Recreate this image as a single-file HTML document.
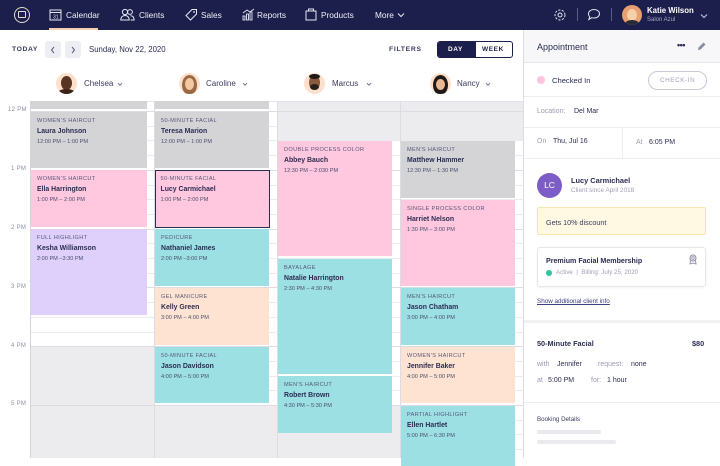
<!DOCTYPE html>
<html><head><meta charset="utf-8">
<style>
*{margin:0;padding:0;box-sizing:border-box}
body{width:720px;height:458px;overflow:hidden;background:#fff;font-family:"Liberation Sans",sans-serif;color:#2b2d52;position:relative}
.a{position:absolute;white-space:nowrap}
.nav{left:0;top:0;width:720px;height:30px;background:#1c1e4c}
.nt{color:#eef0f8;font-size:8.3px;top:10px}
.hl{left:31px;height:1px;width:492px;background:#ebebf0}
.hh{background:#dcdce4}
.tl{font-size:6px;color:#8e90a6;left:8px;letter-spacing:.3px}
.ev{position:absolute;overflow:hidden}
.ev .c{position:absolute;left:6px;top:6px;font-size:5.6px;letter-spacing:.35px;color:#55587a;white-space:nowrap}
.ev .n{position:absolute;left:6px;top:16px;font-size:6.9px;font-weight:bold;color:#2b2d52;white-space:nowrap}
.ev .t{position:absolute;left:6px;top:27px;font-size:5.6px;color:#4b4e6e;white-space:nowrap}
.gr{background:#d4d4d7}.pk{background:#ffc8df}.lv{background:#ded0fb}.tq{background:#9ce0e3}.pc{background:#ffe3d2}
.off{position:absolute;background:#ececef}
.vl{position:absolute;top:101px;width:1px;height:357px;background:#dcdce4}
.sm{font-size:7px;color:#9a9cb2}
.dk{font-size:7px;color:#2b2d52}
</style></head><body>

<!-- NAV -->
<div class="a nav"></div>
<div class="a" style="left:14px;top:7px;width:16px;height:16px;border:1.3px solid #e8d9c8;border-radius:50%"></div>
<div class="a" style="left:18px;top:11px;width:8px;height:7px;border:1.2px solid #e8d9c8;border-radius:1px"></div>
<svg class="a" style="left:49px;top:8px" width="13" height="13" viewBox="0 0 13 13"><rect x="1" y="2" width="11" height="10" fill="none" stroke="#e6e8f2" stroke-width="1"/><line x1="1" y1="4.5" x2="12" y2="4.5" stroke="#e6e8f2"/><text x="4" y="10.5" font-size="5" fill="#e6e8f2" font-family="Liberation Sans">31</text></svg>
<div class="a nt" style="left:66px">Calendar</div>
<div class="a" style="left:49px;top:28px;width:49px;height:2px;background:#f2cfb0"></div>
<svg class="a" style="left:120px;top:8px" width="15" height="13" viewBox="0 0 15 13"><circle cx="5" cy="4" r="2.6" fill="none" stroke="#e6e8f2"/><path d="M0.8 12c0-3 2-4.5 4.2-4.5S9.2 9 9.2 12z" fill="none" stroke="#e6e8f2"/><circle cx="10" cy="4" r="2.4" fill="none" stroke="#e6e8f2"/><path d="M10.5 7.6c2 .2 3.6 1.6 3.6 4.4h-3.4" fill="none" stroke="#e6e8f2"/></svg>
<div class="a nt" style="left:139px">Clients</div>
<svg class="a" style="left:185px;top:8px" width="13" height="13" viewBox="0 0 13 13"><path d="M7 1.5h4.5v4.5L5.5 12 1 7.5z" fill="none" stroke="#e6e8f2"/><circle cx="9" cy="4" r=".9" fill="#e6e8f2"/></svg>
<div class="a nt" style="left:201px">Sales</div>
<svg class="a" style="left:242px;top:8px" width="13" height="13" viewBox="0 0 13 13"><rect x="1" y="8" width="2" height="4" fill="none" stroke="#e6e8f2" stroke-width=".9"/><rect x="4.5" y="6" width="2" height="6" fill="none" stroke="#e6e8f2" stroke-width=".9"/><rect x="8" y="4" width="2" height="8" fill="none" stroke="#e6e8f2" stroke-width=".9"/><path d="M1 5l4-3 3 2 4-3" fill="none" stroke="#e6e8f2" stroke-width=".9"/></svg>
<div class="a nt" style="left:257px">Reports</div>
<svg class="a" style="left:305px;top:7px" width="12" height="14" viewBox="0 0 12 14"><path d="M1 4h10v9H1z" fill="none" stroke="#e6e8f2"/><path d="M3.5 4V2h5v2" fill="none" stroke="#e6e8f2"/></svg>
<div class="a nt" style="left:321px">Products</div>
<div class="a nt" style="left:375px">More</div>
<svg class="a" style="left:397px;top:12px" width="8" height="6" viewBox="0 0 8 6"><path d="M1 1.5l3 3 3-3" fill="none" stroke="#e6e8f2"/></svg>
<svg class="a" style="left:553px;top:8px" width="14" height="14" viewBox="0 0 14 14"><circle cx="7" cy="7" r="2" fill="none" stroke="#e6e8f2"/><circle cx="7" cy="7" r="5" fill="none" stroke="#e6e8f2" stroke-dasharray="2.2 1.4"/></svg>
<div class="a" style="left:577px;top:8px;width:1px;height:13px;background:#5a5d86"></div>
<svg class="a" style="left:587px;top:8px" width="14" height="13" viewBox="0 0 14 13"><path d="M7 1.5c3.2 0 5.5 1.9 5.5 4.3S10.2 10 7 10c-.8 0-1.5-.1-2.2-.3L1.8 11.5l.9-2.6C1.9 8.1 1.5 7 1.5 5.8 1.5 3.4 3.8 1.5 7 1.5z" fill="none" stroke="#e6e8f2"/></svg>
<div class="a" style="left:611px;top:8px;width:1px;height:13px;background:#5a5d86"></div>
<div class="a" style="left:622px;top:5px;width:20px;height:20px;border-radius:50%;background:#e8a070;overflow:hidden"><div style="position:absolute;left:5px;top:4px;width:10px;height:12px;border-radius:50%;background:#f6d0a8"></div><div style="position:absolute;left:3px;top:15px;width:14px;height:8px;border-radius:50%;background:#2a2a3a"></div></div>
<div class="a" style="left:647px;top:6px;font-size:7.8px;font-weight:bold;color:#fff">Katie Wilson</div>
<div class="a" style="left:647px;top:17px;font-size:6px;color:#a4a7c4">Salon Azul</div>
<svg class="a" style="left:700px;top:13px" width="8" height="6" viewBox="0 0 8 6"><path d="M1 1.5l3 3 3-3" fill="none" stroke="#c8cae0"/></svg>

<!-- TOOLBAR -->
<div class="a" style="left:12px;top:46px;font-size:6.8px;font-weight:bold;letter-spacing:.6px;color:#3a3c5e">TODAY</div>
<div class="a" style="left:45px;top:41px;width:16px;height:17px;background:#eceef4;border-radius:3px"></div>
<div class="a" style="left:65px;top:41px;width:16px;height:17px;background:#eceef4;border-radius:3px"></div>
<svg class="a" style="left:50px;top:46px" width="6" height="8" viewBox="0 0 6 8"><path d="M4 1L1.5 4 4 7" fill="none" stroke="#5a5c7a"/></svg>
<svg class="a" style="left:70px;top:46px" width="6" height="8" viewBox="0 0 6 8"><path d="M2 1l2.5 3L2 7" fill="none" stroke="#5a5c7a"/></svg>
<div class="a" style="left:89px;top:45px;font-size:7.8px;color:#2b2d52">Sunday, Nov 22, 2020</div>
<div class="a" style="left:389px;top:46px;font-size:6.8px;font-weight:bold;letter-spacing:.7px;color:#3a3c5e">FILTERS</div>
<div class="a" style="left:437px;top:41px;width:76px;height:17px;border:1px solid #1c1e4c;border-radius:3px;overflow:hidden"><div style="position:absolute;left:0;top:0;width:38px;height:17px;background:#1c1e4c"></div></div>
<div class="a" style="left:448px;top:46px;font-size:6.5px;font-weight:bold;letter-spacing:.6px;color:#fff">DAY</div>
<div class="a" style="left:482px;top:46px;font-size:6.5px;font-weight:bold;letter-spacing:.6px;color:#1c1e4c">WEEK</div>

<!-- STAFF -->
<div class="a" style="left:56px;top:73px;width:21px;height:21px;border-radius:50%;background:#fde0cc;overflow:hidden"><div style="position:absolute;left:5px;top:3px;width:11px;height:14px;border-radius:50%;background:#5a3524"></div><div style="position:absolute;left:2px;top:16px;width:17px;height:8px;border-radius:50%;background:#3a2418"></div></div>
<div class="a" style="left:84px;top:79px;font-size:8px;color:#3a3c5e">Chelsea</div>
<svg class="a" style="left:117px;top:82px" width="6" height="5" viewBox="0 0 6 5"><path d="M1 1.2l2 2 2-2" fill="none" stroke="#6a6c88" stroke-width=".9"/></svg>
<div class="a" style="left:179px;top:73px;width:21px;height:21px;border-radius:50%;background:#fde0cc;overflow:hidden"><div style="position:absolute;left:3px;top:2px;width:15px;height:20px;border-radius:50%;background:#9a6a45"></div><div style="position:absolute;left:6px;top:5px;width:9px;height:12px;border-radius:50%;background:#f2c7a2"></div></div>
<div class="a" style="left:206px;top:79px;font-size:8px;color:#3a3c5e">Caroline</div>
<svg class="a" style="left:242px;top:82px" width="6" height="5" viewBox="0 0 6 5"><path d="M1 1.2l2 2 2-2" fill="none" stroke="#6a6c88" stroke-width=".9"/></svg>
<div class="a" style="left:304px;top:73px;width:21px;height:21px;border-radius:50%;background:#fde0cc;overflow:hidden"><div style="position:absolute;left:5px;top:2px;width:11px;height:15px;border-radius:50%;background:#8a5a3a"></div><div style="position:absolute;left:5px;top:1px;width:11px;height:5px;border-radius:50%;background:#1f1a18"></div><div style="position:absolute;left:6px;top:11px;width:9px;height:6px;border-radius:50%;background:#2a201a"></div></div>
<div class="a" style="left:332px;top:79px;font-size:8px;color:#3a3c5e">Marcus</div>
<svg class="a" style="left:366px;top:82px" width="6" height="5" viewBox="0 0 6 5"><path d="M1 1.2l2 2 2-2" fill="none" stroke="#6a6c88" stroke-width=".9"/></svg>
<div class="a" style="left:430px;top:73px;width:21px;height:21px;border-radius:50%;background:#fde0cc;overflow:hidden"><div style="position:absolute;left:3px;top:2px;width:15px;height:20px;border-radius:50%;background:#1f1a1a"></div><div style="position:absolute;left:6px;top:6px;width:9px;height:11px;border-radius:50%;background:#e8b892"></div></div>
<div class="a" style="left:457px;top:79px;font-size:8px;color:#3a3c5e">Nancy</div>
<svg class="a" style="left:485px;top:82px" width="6" height="5" viewBox="0 0 6 5"><path d="M1 1.2l2 2 2-2" fill="none" stroke="#6a6c88" stroke-width=".9"/></svg>

<!-- GRID -->
<div class="off" style="left:31px;top:346px;width:123px;height:112px"></div>
<div class="off" style="left:154px;top:405px;width:124px;height:53px"></div>
<div class="off" style="left:278px;top:101px;width:123px;height:40px"></div>
<div class="off" style="left:278px;top:405px;width:123px;height:53px"></div>
<div class="off" style="left:401px;top:101px;width:123px;height:40px"></div>

<div class="a hl hh" style="top:101px;background:#e4e4ea"></div>
<div class="a hl hh" style="top:111px"></div>
<div class="a hl" style="top:125.7px"></div>
<div class="a hl" style="top:140.4px"></div>
<div class="a hl" style="top:155.1px"></div>
<div class="a hl hh" style="top:169.8px"></div>
<div class="a hl" style="top:184.5px"></div>
<div class="a hl" style="top:199.2px"></div>
<div class="a hl" style="top:213.9px"></div>
<div class="a hl hh" style="top:228.6px"></div>
<div class="a hl" style="top:243.3px"></div>
<div class="a hl" style="top:258px"></div>
<div class="a hl" style="top:272.7px"></div>
<div class="a hl hh" style="top:287.4px"></div>
<div class="a hl" style="top:302.1px"></div>
<div class="a hl" style="top:316.8px"></div>
<div class="a hl" style="top:331.5px"></div>
<div class="a hl hh" style="top:346.2px"></div>
<div class="a hl" style="top:360.9px"></div>
<div class="a hl" style="top:375.6px"></div>
<div class="a hl" style="top:390.3px"></div>
<div class="a hl hh" style="top:405px"></div>
<div class="a hl" style="top:419.7px"></div>
<div class="a hl" style="top:434.4px"></div>
<div class="a hl" style="top:449.1px"></div>

<div class="vl" style="left:30px;background:#d4d4de"></div>
<div class="vl" style="left:154px"></div>
<div class="vl" style="left:277px"></div>
<div class="vl" style="left:400px"></div>

<div class="a tl" style="top:107px">12 PM</div>
<div class="a tl" style="top:166px;left:11px">1 PM</div>
<div class="a tl" style="top:225px;left:11px">2 PM</div>
<div class="a tl" style="top:284px;left:11px">3 PM</div>
<div class="a tl" style="top:343px;left:11px">4 PM</div>
<div class="a tl" style="top:401px;left:11px">5 PM</div>

<!-- col1 -->
<div class="ev gr" style="left:31px;top:101px;width:116px;height:8px"></div>
<div class="ev gr" style="left:31px;top:111.5px;width:116px;height:56.8px"><div class="c">WOMEN'S HAIRCUT</div><div class="n">Laura Johnson</div><div class="t">12:00 PM – 1:00 PM</div></div>
<div class="ev pk" style="left:31px;top:170.3px;width:116px;height:56.8px"><div class="c">WOMEN'S HAIRCUT</div><div class="n">Ella Harrington</div><div class="t">1:00 PM – 2:00 PM</div></div>
<div class="ev lv" style="left:31px;top:229.1px;width:116px;height:86.2px"><div class="c">FULL HIGHLIGHT</div><div class="n">Kesha Williamson</div><div class="t">2:00 PM –3:30 PM</div></div>
<!-- col2 -->
<div class="ev gr" style="left:155px;top:101px;width:114px;height:8px"></div>
<div class="ev gr" style="left:155px;top:111.5px;width:114px;height:56.8px"><div class="c">50-MINUTE FACIAL</div><div class="n">Teresa Marion</div><div class="t">12:00 PM – 1:00 PM</div></div>
<div class="ev pk" style="left:155px;top:170.3px;width:115px;height:57.8px;border:1.5px solid #2a2c50"><div class="c" style="left:4.5px;top:4.5px">50-MINUTE FACIAL</div><div class="n" style="left:4.5px;top:14.5px">Lucy Carmichael</div><div class="t" style="left:4.5px;top:25.5px">1:00 PM – 2:00 PM</div></div>
<div class="ev tq" style="left:155px;top:229.1px;width:114px;height:56.8px"><div class="c">PEDICURE</div><div class="n">Nathaniel James</div><div class="t">2:00 PM –3:00 PM</div></div>
<div class="ev pc" style="left:155px;top:287.9px;width:114px;height:56.8px"><div class="c">GEL MANICURE</div><div class="n">Kelly Green</div><div class="t">3:00 PM – 4:00 PM</div></div>
<div class="ev tq" style="left:155px;top:346.7px;width:114px;height:56.8px"><div class="c">50-MINUTE FACIAL</div><div class="n">Jason Davidson</div><div class="t">4:00 PM – 5:00 PM</div></div>
<!-- col3 -->
<div class="ev pk" style="left:278px;top:140.9px;width:114px;height:115.6px"><div class="c">DOUBLE PROCESS COLOR</div><div class="n">Abbey Bauch</div><div class="t">12:30 PM – 2:030 PM</div></div>
<div class="ev tq" style="left:278px;top:258.5px;width:114px;height:115.6px"><div class="c">BAYALAGE</div><div class="n">Natalie Harrington</div><div class="t">2:30 PM – 4:30 PM</div></div>
<div class="ev tq" style="left:278px;top:376.1px;width:114px;height:56.8px"><div class="c">MEN'S HAIRCUT</div><div class="n">Robert Brown</div><div class="t">4:30 PM – 5:30 PM</div></div>
<!-- col4 -->
<div class="ev gr" style="left:401px;top:140.9px;width:114px;height:56.8px"><div class="c">MEN'S HAIRCUT</div><div class="n">Matthew Hammer</div><div class="t">12:30 PM – 1:30 PM</div></div>
<div class="ev pk" style="left:401px;top:199.7px;width:114px;height:86.2px"><div class="c">SINGLE PROCESS COLOR</div><div class="n">Harriet Nelson</div><div class="t">1:30 PM – 3:00 PM</div></div>
<div class="ev tq" style="left:401px;top:287.9px;width:114px;height:56.8px"><div class="c">MEN'S HAIRCUT</div><div class="n">Jason Chatham</div><div class="t">3:00 PM – 4:00 PM</div></div>
<div class="ev pc" style="left:401px;top:346.7px;width:114px;height:56.8px"><div class="c">WOMEN'S HAIRCUT</div><div class="n">Jennifer Baker</div><div class="t">4:00 PM – 5:00 PM</div></div>
<div class="ev tq" style="left:401px;top:405.5px;width:114px;height:60px"><div class="c">PARTIAL HIGHLIGHT</div><div class="n">Ellen Hartlet</div><div class="t">5:00 PM – 6:30 PM</div></div>

<!-- RIGHT PANEL -->
<div class="a" style="left:523px;top:30px;width:1px;height:428px;background:#dcdce4"></div>
<div class="a" style="left:524px;top:30px;width:196px;height:428px;background:#fff"></div>
<div class="a" style="left:524px;top:30px;width:196px;height:33px;background:#f7f7f9;border-bottom:1px solid #e6e6ec"></div>
<div class="a" style="left:537px;top:42px;font-size:9px;color:#2b2d52">Appointment</div>
<div class="a" style="left:677px;top:40px;font-size:9px;font-weight:bold;color:#2b2d52;letter-spacing:-.5px">•••</div>
<svg class="a" style="left:696px;top:41px" width="11" height="11" viewBox="0 0 11 11"><path d="M2 9l.5-2.5L7.5 1.5 9.5 3.5 4.5 8.5z" fill="#8a8ca4"/></svg>

<div class="a" style="left:537px;top:76px;width:8px;height:8px;border-radius:50%;background:#ffc3db"></div>
<div class="a" style="left:552px;top:76px;font-size:7.6px;color:#2b2d52">Checked In</div>
<div class="a" style="left:648px;top:71px;width:59px;height:19px;border:1px solid #c8cad6;border-radius:10px"></div>
<div class="a" style="left:660px;top:77px;font-size:6.3px;letter-spacing:.6px;color:#a2a4b8">CHECK-IN</div>
<div class="a" style="left:524px;top:96px;width:196px;height:1px;background:#ececf1"></div>

<div class="a sm" style="left:537px;top:108px">Location:</div>
<div class="a dk" style="left:574px;top:108px">Del Mar</div>
<div class="a" style="left:524px;top:127px;width:196px;height:1px;background:#ececf1"></div>
<div class="a sm" style="left:537px;top:138px">On</div>
<div class="a dk" style="left:553px;top:138px">Thu, Jul 16</div>
<div class="a" style="left:622px;top:127px;width:1px;height:31px;background:#ececf1"></div>
<div class="a sm" style="left:636px;top:139px">At</div>
<div class="a dk" style="left:649px;top:139px">6:05 PM</div>
<div class="a" style="left:524px;top:158px;width:196px;height:1px;background:#ececf1"></div>

<div class="a" style="left:537px;top:173px;width:25px;height:25px;border-radius:50%;background:#7c5cc6;color:#fff;font-size:8.5px;text-align:center;line-height:25px">LC</div>
<div class="a" style="left:571px;top:176px;font-size:7.4px;font-weight:bold;color:#2b2d52">Lucy Carmichael</div>
<div class="a" style="left:571px;top:187px;font-size:6.4px;color:#a0a2b6">Client since April 2018</div>

<div class="a" style="left:537px;top:207px;width:169px;height:28px;background:#fff8e2;border:1px solid #f5e6b2;border-radius:2px"></div>
<div class="a" style="left:546px;top:218px;font-size:7.2px;color:#3a3c5e">Gets 10% discount</div>

<div class="a" style="left:537px;top:247px;width:169px;height:40px;border:1px solid #e6e6ec;border-radius:3px;box-shadow:0 1px 2px rgba(0,0,0,.05)"></div>
<div class="a" style="left:546px;top:257px;font-size:7.1px;font-weight:bold;color:#2b2d52">Premium Facial Membership</div>
<div class="a" style="left:546px;top:270px;width:6px;height:6px;border-radius:50%;background:#2ec4a0"></div>
<div class="a" style="left:556px;top:269px;font-size:6.2px;color:#a0a2b6">Active &nbsp;| &nbsp;Billing: July 25, 2020</div>
<svg class="a" style="left:688px;top:254px" width="10" height="11" viewBox="0 0 10 11"><circle cx="5" cy="4" r="3" fill="none" stroke="#8a8ca4"/><circle cx="5" cy="4" r="1.3" fill="none" stroke="#8a8ca4" stroke-width=".8"/><path d="M2.5 6.5L2 10l3-1 3 1-.5-3.5" fill="none" stroke="#8a8ca4" stroke-width=".9"/></svg>
<div class="a" style="left:537px;top:298px;font-size:6.3px;color:#3b3e80;text-decoration:underline">Show additional client info</div>
<div class="a" style="left:524px;top:320px;width:196px;height:3px;background:#f1f1f4"></div>

<div class="a" style="left:537px;top:339px;font-size:7.3px;font-weight:bold;color:#2b2d52">50-Minute Facial</div>
<div class="a" style="left:692px;top:339px;font-size:7.3px;font-weight:bold;color:#2b2d52">$80</div>
<div class="a sm" style="left:537px;top:361px">with</div>
<div class="a dk" style="left:557px;top:361px">Jennifer</div>
<div class="a sm" style="left:598px;top:361px">request:</div>
<div class="a dk" style="left:631px;top:361px">none</div>
<div class="a sm" style="left:537px;top:377px">at</div>
<div class="a dk" style="left:548px;top:377px">5:00 PM</div>
<div class="a sm" style="left:591px;top:377px">for:</div>
<div class="a dk" style="left:607px;top:377px">1 hour</div>
<div class="a" style="left:524px;top:402px;width:196px;height:1px;background:#ececf1"></div>
<div class="a" style="left:537px;top:416px;font-size:6.2px;color:#3a3c5e">Booking Details</div>
<div class="a" style="left:537px;top:430px;width:64px;height:4px;border-radius:2px;background:#e9e9ee"></div>
<div class="a" style="left:537px;top:440px;width:79px;height:4px;border-radius:2px;background:#e9e9ee"></div>
</body></html>
